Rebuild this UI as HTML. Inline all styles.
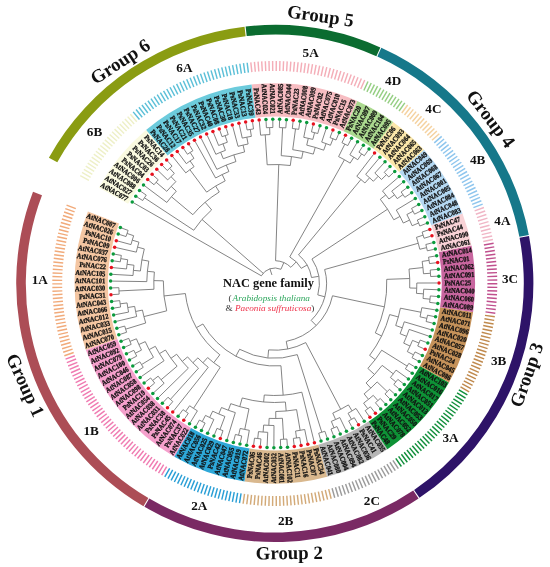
<!DOCTYPE html>
<html><head><meta charset="utf-8"><title>NAC gene family</title>
<style>html,body{margin:0;padding:0;background:#fff;}svg{display:block;}</style>
</head><body>
<svg width="550" height="567" viewBox="0 0 550 567">
<rect width="550" height="567" fill="#fff"/>
<path d="M143.47 506.27A258.6 258.6 0 0 1 33.02 191.75L42 195.16A249 249 0 0 0 148.35 498Z" fill="#ac4d56"/>
<path d="M418.58 498.44A258.6 258.6 0 0 1 144.41 506.82L149.25 498.53A249 249 0 0 0 413.25 490.46Z" fill="#7a2a64"/>
<path d="M529 236.02A258.6 258.6 0 0 1 419.48 497.84L414.11 489.88A249 249 0 0 0 519.57 237.78Z" fill="#2e1368"/>
<path d="M381.3 47.85A258.6 258.6 0 0 1 528.8 234.95L519.37 236.76A249 249 0 0 0 377.35 56.6Z" fill="#16788a"/>
<path d="M245.62 26.55A258.6 258.6 0 0 1 380.31 47.4L376.39 56.17A249 249 0 0 0 246.7 36.09Z" fill="#0b6c30"/>
<path d="M48.89 157.65A258.6 258.6 0 0 1 244.54 26.68L245.66 36.21A249 249 0 0 0 57.27 162.33Z" fill="#8a9c12"/>
<path d="M85.88 350.04A200.3 200.3 0 0 1 87.92 211.42L118.99 223.41A167 167 0 0 0 117.28 338.98Z" fill="#f4c6a2"/>
<path d="M174.34 456.78A200.3 200.3 0 0 1 85.88 350.04L117.28 338.98A167 167 0 0 0 191.04 427.98Z" fill="#f5a0cc"/>
<path d="M244.62 481.51A200.3 200.3 0 0 1 174.34 456.78L191.04 427.98A167 167 0 0 0 249.64 448.59Z" fill="#2ea8d8"/>
<path d="M327.16 476.83A200.3 200.3 0 0 1 244.62 481.51L249.64 448.59A167 167 0 0 0 318.46 444.69Z" fill="#d9b88e"/>
<path d="M387.42 449.14A200.3 200.3 0 0 1 327.16 476.83L318.46 444.69A167 167 0 0 0 368.69 421.6Z" fill="#b6b6b6"/>
<path d="M448.98 382.4A200.3 200.3 0 0 1 387.42 449.14L368.69 421.6A167 167 0 0 0 420.02 365.96Z" fill="#0e9236"/>
<path d="M473.08 311.89A200.3 200.3 0 0 1 448.98 382.4L420.02 365.96A167 167 0 0 0 440.11 307.17Z" fill="#c5925a"/>
<path d="M471.48 245.6A200.3 200.3 0 0 1 473.08 311.89L440.11 307.17A167 167 0 0 0 438.78 251.9Z" fill="#c8669f"/>
<path d="M462.49 213.57A200.3 200.3 0 0 1 471.48 245.6L438.78 251.9A167 167 0 0 0 431.29 225.19Z" fill="#f8d2d6"/>
<path d="M423.95 149.8A200.3 200.3 0 0 1 462.49 213.57L431.29 225.19A167 167 0 0 0 399.15 172.03Z" fill="#b4d8f2"/>
<path d="M393.15 121.9A200.3 200.3 0 0 1 423.95 149.8L399.15 172.03A167 167 0 0 0 373.47 148.77Z" fill="#fbe7aa"/>
<path d="M357.25 100.96A200.3 200.3 0 0 1 393.15 121.9L373.47 148.77A167 167 0 0 0 343.54 131.3Z" fill="#abd98f"/>
<path d="M251.57 84.55A200.3 200.3 0 0 1 357.25 100.96L343.54 131.3A167 167 0 0 0 255.43 117.63Z" fill="#f7bdc2"/>
<path d="M146.03 130.08A200.3 200.3 0 0 1 251.57 84.55L255.43 117.63A167 167 0 0 0 167.44 155.58Z" fill="#6ccbdc"/>
<path d="M98.86 187.76A200.3 200.3 0 0 1 146.03 130.08L167.44 155.58A167 167 0 0 0 128.11 203.67Z" fill="#fafae0"/>
<path d="M73.7 352.48L64.34 355.69M71.54 345.83L62.08 348.73M69.6 339.12L60.05 341.71M67.89 332.34L58.25 334.62M66.39 325.52L56.69 327.47M65.12 318.64L55.36 320.28M64.08 311.73L54.27 313.05M63.27 304.79L53.42 305.78M62.68 297.83L52.81 298.5M62.33 290.85L52.43 291.19M62.2 283.86L52.3 283.88M62.3 276.88L52.41 276.57M62.64 269.89L52.76 269.26M63.2 262.93L53.34 261.97M63.99 255.99L54.17 254.7M65.01 249.07L55.24 247.47M66.25 242.2L56.54 240.27M67.72 235.36L58.08 233.12M69.42 228.58L59.85 226.03M71.33 221.86L61.86 218.99M73.47 215.21L64.09 212.03M75.82 208.63L66.55 205.14M72.59 349.16L63.18 352.22M70.55 342.48L61.03 345.23M68.72 335.74L59.12 338.17M67.11 328.94L57.44 331.05M65.73 322.09L56 323.88M64.58 315.19L54.79 316.67M63.65 308.27L53.81 309.42M62.95 301.31L53.08 302.14M62.48 294.34L52.59 294.85M62.23 287.36L52.34 287.54M62.22 280.37L52.32 280.22M62.44 273.38L52.55 272.91M62.89 266.41L53.02 265.61M63.56 259.45L53.73 258.33M64.47 252.52L54.67 251.08M65.6 245.63L55.86 243.86M66.96 238.77L57.28 236.69M68.54 231.97L58.94 229.57M70.35 225.22L60.82 222.5M72.37 218.53L62.95 215.5M74.62 211.91L65.29 208.58" stroke="#f1aa7a" stroke-width="1.45" fill="none"/>
<path d="M166.66 466.54L161.63 475.07M160.7 462.89L155.39 471.24M154.87 459.04L149.28 467.22M149.16 455.01L143.31 462.99M143.6 450.78L137.49 458.57M138.17 446.38L131.81 453.97M132.89 441.8L126.28 449.18M127.76 437.05L120.92 444.2M122.8 432.14L115.72 439.06M117.99 427.06L110.69 433.75M113.36 421.83L105.84 428.27M108.9 416.45L101.17 422.64M104.62 410.93L96.7 416.86M100.52 405.26L92.41 410.93M96.62 399.47L88.32 404.87M92.9 393.55L84.43 398.68M89.38 387.51L80.75 392.36M86.06 381.36L77.27 385.92M82.95 375.11L74.02 379.37M80.04 368.75L70.97 372.72M77.35 362.31L68.15 365.98M74.86 355.77L65.55 359.14M163.67 464.74L158.49 473.18M157.77 460.99L152.32 469.26M152 457.05L146.28 465.13M146.36 452.92L140.38 460.81M140.86 448.61L134.63 456.29M135.51 444.11L129.02 451.59M130.31 439.45L123.58 446.71M125.26 434.62L118.3 441.65M120.37 429.62L113.18 436.42M115.65 424.47L108.24 431.03M111.11 419.16L103.48 425.48M106.74 413.71L98.91 419.77M102.55 408.11L94.53 413.91M98.55 402.38L90.34 407.92M94.73 396.53L86.35 401.79M91.12 390.55L82.56 395.53M87.7 384.45L78.98 389.15M84.48 378.25L75.62 382.66M81.47 371.94L72.47 376.06M78.67 365.54L69.53 369.36M76.08 359.05L66.82 362.57" stroke="#f07cb2" stroke-width="1.45" fill="none"/>
<path d="M241.06 493.41L239.49 503.18M234.25 492.2L232.36 501.92M227.48 490.77L225.28 500.42M220.77 489.12L218.25 498.69M214.11 487.25L211.28 496.74M207.51 485.17L204.38 494.56M200.99 482.87L197.55 492.16M194.54 480.37L190.8 489.54M188.18 477.65L184.14 486.69M181.91 474.73L177.58 483.64M175.74 471.61L171.12 480.37M169.67 468.29L164.77 476.89M237.65 492.83L235.92 502.58M230.86 491.51L228.82 501.2M224.12 489.97L221.76 499.59M217.43 488.21L214.76 497.75M210.8 486.24L207.82 495.68M204.24 484.05L200.95 493.39M197.75 481.65L194.16 490.87M191.35 479.04L187.46 488.14M185.03 476.22L180.85 485.19M178.81 473.2L174.34 482.03M172.69 469.97L167.93 478.66" stroke="#2a9fd6" stroke-width="1.45" fill="none"/>
<path d="M328.67 489.16L331.18 498.74M321.8 490.84L323.99 500.49M314.88 492.29L316.75 502.01M307.92 493.5L309.46 503.28M300.92 494.49L302.13 504.31M293.89 495.24L294.77 505.1M286.83 495.76L287.39 505.64M279.77 496.04L280 505.94M272.7 496.09L272.6 505.99M265.63 495.9L265.2 505.79M258.57 495.48L257.82 505.35M251.53 494.82L250.45 504.66M244.52 493.93L243.11 503.73M325.24 490.03L327.59 499.65M318.35 491.59L320.38 501.28M311.41 492.92L313.11 502.68M304.42 494.03L305.8 503.83M297.4 494.89L298.46 504.74M290.36 495.53L291.09 505.4M283.3 495.93L283.7 505.82M276.23 496.1L276.3 505.99M269.16 496.03L268.9 505.92M262.1 495.72L261.51 505.6M255.05 495.18L254.13 505.04M248.02 494.41L246.78 504.23" stroke="#d3aa78" stroke-width="1.45" fill="none"/>
<path d="M392.87 460.3L398.36 468.54M386.92 464.13L392.14 472.54M380.85 467.76L385.79 476.34M374.67 471.18L379.32 479.92M368.37 474.4L372.73 483.29M361.97 477.41L366.03 486.44M355.48 480.2L359.23 489.36M348.89 482.77L352.34 492.05M342.22 485.13L345.36 494.51M335.48 487.26L338.31 496.74M389.91 462.24L395.27 470.56M383.9 465.97L388.98 474.47M377.78 469.5L382.57 478.16M371.53 472.82L376.04 481.63M365.18 475.93L369.39 484.89M358.74 478.83L362.64 487.93M352.19 481.51L355.8 490.73M345.57 483.98L348.86 493.31M338.86 486.22L341.84 495.66M332.08 488.24L334.75 497.77" stroke="#9c9c9c" stroke-width="1.45" fill="none"/>
<path d="M458.82 389.98L467.38 394.93M455.24 395.93L463.64 401.16M451.47 401.76L459.7 407.27M447.51 407.47L455.56 413.24M443.37 413.04L451.22 419.08M439.05 418.48L446.7 424.77M434.56 423.77L442 430.3M429.89 428.92L437.11 435.69M425.06 433.9L432.06 440.91M420.07 438.73L426.83 445.96M414.92 443.39L421.44 450.84M409.62 447.88L415.9 455.54M404.18 452.2L410.21 460.05M398.6 456.33L404.37 464.38M457.05 392.97L465.54 398.06M453.38 398.86L461.7 404.23M449.52 404.63L457.65 410.27M445.47 410.27L453.41 416.18M441.24 415.78L448.99 421.94M436.83 421.14L444.37 427.55M432.24 426.36L439.58 433.02M427.5 431.43L434.61 438.32M422.58 436.34L429.46 443.45M417.51 441.08L424.16 448.42M412.29 445.66L418.69 453.21M406.92 450.06L413.07 457.82M401.41 454.29L407.31 462.24M395.76 458.33L401.4 466.47" stroke="#12903c" stroke-width="1.45" fill="none"/>
<path d="M485 315.35L494.79 316.83M483.85 322.17L493.59 323.97M482.49 328.95L492.16 331.06M480.9 335.68L490.49 338.11M479.09 342.36L488.6 345.1M477.07 348.97L486.49 352.02M474.83 355.52L484.15 358.87M472.38 361.98L481.58 365.64M469.72 368.37L478.8 372.32M466.86 374.67L475.8 378.91M463.79 380.87L472.59 385.4M460.53 386.96L469.17 391.78M484.46 318.76L494.22 320.4M483.2 325.56L492.9 327.52M481.72 332.32L491.35 334.59M480.02 339.03L489.58 341.61M478.11 345.67L487.57 348.57M475.98 352.25L485.34 355.45M473.63 358.76L482.89 362.27M471.08 365.19L480.22 368.99M468.32 371.53L477.33 375.63M465.35 377.78L474.23 382.17M462.18 383.93L470.91 388.6" stroke="#c08a4e" stroke-width="1.45" fill="none"/>
<path d="M483.89 245.01L493.62 243.22M485.05 251.98L494.84 250.52M485.98 258.99L495.82 257.85M486.68 266.03L496.55 265.22M487.14 273.08L497.03 272.6M487.37 280.15L497.27 280M487.37 287.22L497.27 287.39M487.13 294.29L497.01 294.79M486.65 301.34L496.52 302.17M485.94 308.38L495.77 309.54M484.5 248.49L494.26 246.86M485.55 255.48L495.36 254.18M486.36 262.51L496.21 261.53M486.94 269.55L496.82 268.91M487.29 276.62L497.18 276.3M487.4 283.69L497.3 283.69M487.28 290.76L497.17 291.09M486.92 297.82L496.79 298.48M486.32 304.86L496.17 305.86M485.5 311.88L495.31 313.21" stroke="#c0508e" stroke-width="1.45" fill="none"/>
<path d="M474.63 210.93L483.94 207.55M476.93 217.62L486.35 214.55M479.01 224.37L488.52 221.62M480.87 231.2L490.46 228.76M482.49 238.08L492.16 235.96M475.81 214.26L485.17 211.04M478 220.99L487.46 218.08M479.97 227.78L489.52 225.18M481.71 234.63L491.34 232.36M483.22 241.54L492.92 239.58" stroke="#f0b6c6" stroke-width="1.45" fill="none"/>
<path d="M434.26 142.89L441.68 136.34M438.75 148.15L446.38 141.84M443.06 153.55L450.9 147.5M447.2 159.09L455.23 153.3M451.16 164.77L459.37 159.24M454.93 170.57L463.31 165.31M458.5 176.49L467.06 171.5M461.89 182.52L470.6 177.82M465.07 188.66L473.93 184.24M468.06 194.9L477.06 190.77M470.84 201.23L479.97 197.4M473.41 207.65L482.66 204.12M436.52 145.5L444.05 139.07M440.93 150.83L448.66 144.65M445.15 156.31L453.09 150.38M449.2 161.92L457.32 156.25M453.06 167.65L461.37 162.26M456.74 173.51L465.21 168.39M460.22 179.49L468.85 174.65M463.51 185.58L472.29 181.02M466.59 191.77L475.52 187.5M469.47 198.06L478.54 194.08M472.15 204.43L481.34 200.75" stroke="#8fc6ee" stroke-width="1.45" fill="none"/>
<path d="M401.78 112.99L407.69 105.05M407.17 117.13L413.33 109.39M412.42 121.45L418.83 113.91M417.53 125.94L424.18 118.6M422.5 130.58L429.37 123.46M427.31 135.38L434.41 128.48M431.97 140.33L439.29 133.67M404.49 115.04L410.53 107.19M409.81 119.27L416.1 111.62M414.99 123.67L421.52 116.23M420.03 128.24L426.79 121.01M424.92 132.96L431.91 125.95M429.66 137.84L436.87 131.05" stroke="#f5d2a0" stroke-width="1.45" fill="none"/>
<path d="M363.86 90.45L368 81.46M369.98 93.4L374.42 84.55M376.01 96.54L380.73 87.83M381.94 99.87L386.93 91.32M387.76 103.39L393.02 95M393.46 107.09L398.98 98.88M399.04 110.98L404.82 102.95M366.93 91.9L371.22 82.98M373.01 94.94L377.59 86.16M378.99 98.18L383.84 89.55M384.86 101.61L389.99 93.14M390.62 105.22L396.02 96.92M396.26 109.01L401.92 100.89" stroke="#96cf84" stroke-width="1.45" fill="none"/>
<path d="M251.88 72.14L250.81 62.3M258.81 71.5L258.07 61.63M265.76 71.09L265.34 61.2M272.72 70.91L272.63 61.01M279.69 70.96L279.91 61.06M286.64 71.23L287.2 61.35M293.59 71.73L294.47 61.87M300.52 72.46L301.71 62.63M307.41 73.42L308.93 63.63M314.28 74.6L316.11 64.87M321.1 76L323.25 66.34M327.87 77.63L330.34 68.04M334.58 79.48L337.36 69.98M341.23 81.54L344.32 72.14M347.81 83.83L351.21 74.53M354.31 86.33L358.01 77.15M360.72 89.04L364.72 79.98M255.34 71.79L254.44 61.93M262.29 71.27L261.7 61.39M269.24 70.97L268.98 61.08M276.21 70.9L276.27 61M283.17 71.06L283.56 61.17M290.12 71.45L290.83 61.58M297.06 72.07L298.09 62.22M303.97 72.91L305.33 63.1M310.85 73.98L312.53 64.22M317.69 75.27L319.69 65.58M324.49 76.79L326.8 67.16M331.23 78.53L333.86 68.98M337.91 80.48L340.85 71.03M344.53 82.66L347.77 73.31M351.07 85.05L354.62 75.81M357.53 87.66L361.38 78.54" stroke="#f4aeb8" stroke-width="1.45" fill="none"/>
<path d="M139.48 119.52L133.18 111.89M145.01 115.12L138.97 107.27M150.68 110.89L144.9 102.86M156.49 106.86L150.98 98.64M162.43 103.02L157.2 94.62M168.49 99.39L163.54 90.81M174.67 95.95L170.01 87.22M180.96 92.73L176.59 83.85M187.36 89.71L183.29 80.69M193.85 86.91L190.08 77.76M200.43 84.33L196.97 75.06M207.1 81.97L203.95 72.58M213.84 79.83L211 70.34M220.64 77.91L218.12 68.34M227.51 76.23L225.31 66.57M234.43 74.77L232.55 65.05M241.39 73.54L239.84 63.76M248.39 72.55L247.16 62.72M142.23 117.3L136.05 109.56M147.83 112.98L141.91 105.04M153.57 108.85L147.92 100.72M159.44 104.92L154.07 96.6M165.44 101.18L160.35 92.69M171.57 97.65L166.76 88.99M177.81 94.32L173.29 85.51M184.15 91.19L179.93 82.24M190.59 88.29L186.67 79.2M197.13 85.59L193.52 76.38M203.76 83.12L200.45 73.79M210.46 80.87L207.46 71.43M217.23 78.84L214.55 69.31M224.07 77.04L221.71 67.43M230.96 75.47L228.92 65.78M237.91 74.13L236.19 64.38M244.89 73.01L243.49 63.21" stroke="#5cc0d8" stroke-width="1.45" fill="none"/>
<path d="M88.89 180.36L80.24 175.56M92.35 174.37L83.85 169.29M95.99 168.49L87.67 163.14M99.83 162.73L91.68 157.11M103.85 157.11L95.89 151.22M108.05 151.61L100.29 145.47M112.43 146.26L104.87 139.87M116.98 141.05L109.63 134.42M121.7 135.99L114.57 129.12M126.58 131.09L119.68 123.99M131.62 126.35L124.95 119.03M136.8 121.77L130.38 114.24M90.6 177.35L82.02 172.41M94.15 171.41L85.73 166.2M97.89 165.6L89.65 160.11M101.82 159.9L93.76 154.15M105.93 154.34L98.07 148.33M110.22 148.92L102.56 142.65M114.69 143.64L107.23 137.12M119.32 138.5L112.08 131.75M124.12 133.52L117.1 126.54M129.08 128.7L122.29 121.49M134.19 124.04L127.64 116.61" stroke="#eef0c8" stroke-width="1.45" fill="none"/>
<g font-family="Liberation Serif, serif" font-weight="bold" font-size="7.3" fill="#111" stroke="#111" stroke-width="0.3">
<text x="115.33" y="225.77" transform="rotate(19.9 115.33 225.77)" text-anchor="end" dy="2.4" textLength="30.21" lengthAdjust="spacingAndGlyphs">AtNAC007</text>
<text x="113.07" y="232.45" transform="rotate(17.52 113.07 232.45)" text-anchor="end" dy="2.4" textLength="30.21" lengthAdjust="spacingAndGlyphs">AtNAC026</text>
<text x="111.08" y="239.22" transform="rotate(15.14 111.08 239.22)" text-anchor="end" dy="2.4" textLength="26.69" lengthAdjust="spacingAndGlyphs">PsNAC10</text>
<text x="109.38" y="246.06" transform="rotate(12.75 109.38 246.06)" text-anchor="end" dy="2.4" textLength="26.69" lengthAdjust="spacingAndGlyphs">PsNAC09</text>
<text x="107.97" y="252.97" transform="rotate(10.37 107.97 252.97)" text-anchor="end" dy="2.4" textLength="30.21" lengthAdjust="spacingAndGlyphs">AtNAC037</text>
<text x="106.85" y="259.93" transform="rotate(7.99 106.85 259.93)" text-anchor="end" dy="2.4" textLength="30.21" lengthAdjust="spacingAndGlyphs">AtNAC076</text>
<text x="106.01" y="266.93" transform="rotate(5.61 106.01 266.93)" text-anchor="end" dy="2.4" textLength="26.69" lengthAdjust="spacingAndGlyphs">PsNAC22</text>
<text x="105.47" y="273.96" transform="rotate(3.23 105.47 273.96)" text-anchor="end" dy="2.4" textLength="30.21" lengthAdjust="spacingAndGlyphs">AtNAC105</text>
<text x="105.22" y="281" transform="rotate(0.84 105.22 281)" text-anchor="end" dy="2.4" textLength="30.21" lengthAdjust="spacingAndGlyphs">AtNAC101</text>
<text x="105.26" y="288.05" transform="rotate(-1.54 105.26 288.05)" text-anchor="end" dy="2.4" textLength="30.21" lengthAdjust="spacingAndGlyphs">AtNAC030</text>
<text x="105.6" y="295.09" transform="rotate(-3.92 105.6 295.09)" text-anchor="end" dy="2.4" textLength="26.69" lengthAdjust="spacingAndGlyphs">PsNAC31</text>
<text x="106.22" y="302.12" transform="rotate(-6.3 106.22 302.12)" text-anchor="end" dy="2.4" textLength="30.21" lengthAdjust="spacingAndGlyphs">AtNAC043</text>
<text x="107.14" y="309.11" transform="rotate(-8.68 107.14 309.11)" text-anchor="end" dy="2.4" textLength="30.21" lengthAdjust="spacingAndGlyphs">AtNAC066</text>
<text x="108.35" y="316.05" transform="rotate(-11.07 108.35 316.05)" text-anchor="end" dy="2.4" textLength="30.21" lengthAdjust="spacingAndGlyphs">AtNAC012</text>
<text x="109.85" y="322.94" transform="rotate(-13.45 109.85 322.94)" text-anchor="end" dy="2.4" textLength="30.21" lengthAdjust="spacingAndGlyphs">AtNAC033</text>
<text x="111.63" y="329.76" transform="rotate(-15.83 111.63 329.76)" text-anchor="end" dy="2.4" textLength="30.21" lengthAdjust="spacingAndGlyphs">AtNAC015</text>
<text x="113.7" y="336.51" transform="rotate(-18.21 113.7 336.51)" text-anchor="end" dy="2.4" textLength="30.21" lengthAdjust="spacingAndGlyphs">AtNAC070</text>
<text x="116.04" y="343.16" transform="rotate(-20.59 116.04 343.16)" text-anchor="end" dy="2.4" textLength="30.21" lengthAdjust="spacingAndGlyphs">AtNAC059</text>
<text x="118.65" y="349.7" transform="rotate(-22.98 118.65 349.7)" text-anchor="end" dy="2.4" textLength="30.21" lengthAdjust="spacingAndGlyphs">AtNAC092</text>
<text x="121.54" y="356.14" transform="rotate(-25.36 121.54 356.14)" text-anchor="end" dy="2.4" textLength="30.21" lengthAdjust="spacingAndGlyphs">AtNAC079</text>
<text x="124.69" y="362.44" transform="rotate(-27.74 124.69 362.44)" text-anchor="end" dy="2.4" textLength="30.21" lengthAdjust="spacingAndGlyphs">AtNAC100</text>
<text x="128.1" y="368.61" transform="rotate(-30.12 128.1 368.61)" text-anchor="end" dy="2.4" textLength="30.21" lengthAdjust="spacingAndGlyphs">AtNAC046</text>
<text x="131.77" y="374.64" transform="rotate(-32.5 131.77 374.64)" text-anchor="end" dy="2.4" textLength="30.21" lengthAdjust="spacingAndGlyphs">AtNAC087</text>
<text x="135.68" y="380.5" transform="rotate(-34.89 135.68 380.5)" text-anchor="end" dy="2.4" textLength="30.21" lengthAdjust="spacingAndGlyphs">AtNAC058</text>
<text x="139.83" y="386.2" transform="rotate(-37.27 139.83 386.2)" text-anchor="end" dy="2.4" textLength="30.21" lengthAdjust="spacingAndGlyphs">AtNAC098</text>
<text x="144.22" y="391.72" transform="rotate(-39.65 144.22 391.72)" text-anchor="end" dy="2.4" textLength="26.69" lengthAdjust="spacingAndGlyphs">PsNAC19</text>
<text x="148.83" y="397.05" transform="rotate(-42.03 148.83 397.05)" text-anchor="end" dy="2.4" textLength="30.21" lengthAdjust="spacingAndGlyphs">AtNAC054</text>
<text x="153.65" y="402.19" transform="rotate(-44.41 153.65 402.19)" text-anchor="end" dy="2.4" textLength="30.21" lengthAdjust="spacingAndGlyphs">AtNAC038</text>
<text x="158.69" y="407.12" transform="rotate(-46.8 158.69 407.12)" text-anchor="end" dy="2.4" textLength="30.21" lengthAdjust="spacingAndGlyphs">AtNAC031</text>
<text x="163.93" y="411.84" transform="rotate(-49.18 163.93 411.84)" text-anchor="end" dy="2.4" textLength="26.69" lengthAdjust="spacingAndGlyphs">PsNAC38</text>
<text x="169.36" y="416.34" transform="rotate(-51.56 169.36 416.34)" text-anchor="end" dy="2.4" textLength="26.69" lengthAdjust="spacingAndGlyphs">PsNAC45</text>
<text x="174.97" y="420.61" transform="rotate(-53.94 174.97 420.61)" text-anchor="end" dy="2.4" textLength="30.21" lengthAdjust="spacingAndGlyphs">AtNAC074</text>
<text x="180.76" y="424.64" transform="rotate(-56.32 180.76 424.64)" text-anchor="end" dy="2.4" textLength="26.69" lengthAdjust="spacingAndGlyphs">PsNAC37</text>
<text x="186.7" y="428.43" transform="rotate(-58.71 186.7 428.43)" text-anchor="end" dy="2.4" textLength="30.21" lengthAdjust="spacingAndGlyphs">AtNAC022</text>
<text x="192.8" y="431.96" transform="rotate(-61.09 192.8 431.96)" text-anchor="end" dy="2.4" textLength="30.21" lengthAdjust="spacingAndGlyphs">AtNAC018</text>
<text x="199.05" y="435.24" transform="rotate(-63.47 199.05 435.24)" text-anchor="end" dy="2.4" textLength="30.21" lengthAdjust="spacingAndGlyphs">AtNAC056</text>
<text x="205.42" y="438.26" transform="rotate(-65.85 205.42 438.26)" text-anchor="end" dy="2.4" textLength="30.21" lengthAdjust="spacingAndGlyphs">AtNAC025</text>
<text x="211.91" y="441.01" transform="rotate(-68.23 211.91 441.01)" text-anchor="end" dy="2.4" textLength="30.21" lengthAdjust="spacingAndGlyphs">AtNAC029</text>
<text x="218.51" y="443.49" transform="rotate(-70.62 218.51 443.49)" text-anchor="end" dy="2.4" textLength="26.69" lengthAdjust="spacingAndGlyphs">PsNAC42</text>
<text x="225.21" y="445.69" transform="rotate(-73 225.21 445.69)" text-anchor="end" dy="2.4" textLength="30.21" lengthAdjust="spacingAndGlyphs">AtNAC047</text>
<text x="231.99" y="447.61" transform="rotate(-75.38 231.99 447.61)" text-anchor="end" dy="2.4" textLength="30.21" lengthAdjust="spacingAndGlyphs">AtNAC055</text>
<text x="238.85" y="449.25" transform="rotate(-77.76 238.85 449.25)" text-anchor="end" dy="2.4" textLength="30.21" lengthAdjust="spacingAndGlyphs">AtNAC019</text>
<text x="245.77" y="450.6" transform="rotate(-80.14 245.77 450.6)" text-anchor="end" dy="2.4" textLength="30.21" lengthAdjust="spacingAndGlyphs">AtNAC072</text>
<text x="252.74" y="451.66" transform="rotate(-82.53 252.74 451.66)" text-anchor="end" dy="2.4" textLength="26.69" lengthAdjust="spacingAndGlyphs">PsNAC05</text>
<text x="259.75" y="452.43" transform="rotate(-84.91 259.75 452.43)" text-anchor="end" dy="2.4" textLength="26.69" lengthAdjust="spacingAndGlyphs">PsNAC46</text>
<text x="266.78" y="452.91" transform="rotate(-87.29 266.78 452.91)" text-anchor="end" dy="2.4" textLength="30.21" lengthAdjust="spacingAndGlyphs">AtNAC002</text>
<text x="273.83" y="453.1" transform="rotate(-89.67 273.83 453.1)" text-anchor="end" dy="2.4" textLength="30.21" lengthAdjust="spacingAndGlyphs">AtNAC032</text>
<text x="280.88" y="452.99" transform="rotate(87.95 280.88 452.99)" text-anchor="start" dy="2.4" textLength="30.21" lengthAdjust="spacingAndGlyphs">AtNAC081</text>
<text x="287.92" y="452.59" transform="rotate(85.56 287.92 452.59)" text-anchor="start" dy="2.4" textLength="30.21" lengthAdjust="spacingAndGlyphs">AtNAC102</text>
<text x="294.93" y="451.9" transform="rotate(83.18 294.93 451.9)" text-anchor="start" dy="2.4" textLength="26.3" lengthAdjust="spacingAndGlyphs">PsNAC11</text>
<text x="301.92" y="450.92" transform="rotate(80.8 301.92 450.92)" text-anchor="start" dy="2.4" textLength="26.69" lengthAdjust="spacingAndGlyphs">PsNAC16</text>
<text x="308.85" y="449.65" transform="rotate(78.42 308.85 449.65)" text-anchor="start" dy="2.4" textLength="26.69" lengthAdjust="spacingAndGlyphs">PsNAC07</text>
<text x="315.73" y="448.09" transform="rotate(76.04 315.73 448.09)" text-anchor="start" dy="2.4" textLength="26.69" lengthAdjust="spacingAndGlyphs">PsNAC34</text>
<text x="322.53" y="446.24" transform="rotate(73.65 322.53 446.24)" text-anchor="start" dy="2.4" textLength="30.21" lengthAdjust="spacingAndGlyphs">AtNAC041</text>
<text x="329.25" y="444.12" transform="rotate(71.27 329.25 444.12)" text-anchor="start" dy="2.4" textLength="30.21" lengthAdjust="spacingAndGlyphs">AtNAC080</text>
<text x="335.88" y="441.72" transform="rotate(68.89 335.88 441.72)" text-anchor="start" dy="2.4" textLength="30.21" lengthAdjust="spacingAndGlyphs">AtNAC004</text>
<text x="342.41" y="439.04" transform="rotate(66.51 342.41 439.04)" text-anchor="start" dy="2.4" textLength="30.21" lengthAdjust="spacingAndGlyphs">AtNAC094</text>
<text x="348.81" y="436.1" transform="rotate(64.13 348.81 436.1)" text-anchor="start" dy="2.4" textLength="30.21" lengthAdjust="spacingAndGlyphs">AtNAC082</text>
<text x="355.09" y="432.89" transform="rotate(61.74 355.09 432.89)" text-anchor="start" dy="2.4" textLength="30.21" lengthAdjust="spacingAndGlyphs">AtNAC036</text>
<text x="361.23" y="429.42" transform="rotate(59.36 361.23 429.42)" text-anchor="start" dy="2.4" textLength="26.69" lengthAdjust="spacingAndGlyphs">PsNAC41</text>
<text x="367.22" y="425.71" transform="rotate(56.98 367.22 425.71)" text-anchor="start" dy="2.4" textLength="30.21" lengthAdjust="spacingAndGlyphs">AtNAC035</text>
<text x="373.05" y="421.74" transform="rotate(54.6 373.05 421.74)" text-anchor="start" dy="2.4" textLength="26.69" lengthAdjust="spacingAndGlyphs">PsNAC48</text>
<text x="378.71" y="417.54" transform="rotate(52.22 378.71 417.54)" text-anchor="start" dy="2.4" textLength="26.69" lengthAdjust="spacingAndGlyphs">PsNAC29</text>
<text x="384.19" y="413.1" transform="rotate(49.83 384.19 413.1)" text-anchor="start" dy="2.4" textLength="30.21" lengthAdjust="spacingAndGlyphs">AtNAC078</text>
<text x="389.48" y="408.45" transform="rotate(47.45 389.48 408.45)" text-anchor="start" dy="2.4" textLength="30.21" lengthAdjust="spacingAndGlyphs">AtNAC052</text>
<text x="394.58" y="403.57" transform="rotate(45.07 394.58 403.57)" text-anchor="start" dy="2.4" textLength="30.21" lengthAdjust="spacingAndGlyphs">AtNAC050</text>
<text x="399.47" y="398.49" transform="rotate(42.69 399.47 398.49)" text-anchor="start" dy="2.4" textLength="30.21" lengthAdjust="spacingAndGlyphs">AtNAC053</text>
<text x="404.14" y="393.21" transform="rotate(40.31 404.14 393.21)" text-anchor="start" dy="2.4" textLength="30.21" lengthAdjust="spacingAndGlyphs">AtNAC013</text>
<text x="408.59" y="387.74" transform="rotate(37.92 408.59 387.74)" text-anchor="start" dy="2.4" textLength="30.21" lengthAdjust="spacingAndGlyphs">AtNAC051</text>
<text x="412.8" y="382.09" transform="rotate(35.54 412.8 382.09)" text-anchor="start" dy="2.4" textLength="30.21" lengthAdjust="spacingAndGlyphs">AtNAC017</text>
<text x="416.78" y="376.27" transform="rotate(33.16 416.78 376.27)" text-anchor="start" dy="2.4" textLength="30.21" lengthAdjust="spacingAndGlyphs">AtNAC016</text>
<text x="420.51" y="370.29" transform="rotate(30.78 420.51 370.29)" text-anchor="start" dy="2.4" textLength="30.21" lengthAdjust="spacingAndGlyphs">AtNAC103</text>
<text x="423.99" y="364.16" transform="rotate(28.4 423.99 364.16)" text-anchor="start" dy="2.4" textLength="30.21" lengthAdjust="spacingAndGlyphs">AtNAC086</text>
<text x="427.22" y="357.88" transform="rotate(26.01 427.22 357.88)" text-anchor="start" dy="2.4" textLength="30.21" lengthAdjust="spacingAndGlyphs">AtNAC045</text>
<text x="430.18" y="351.49" transform="rotate(23.63 430.18 351.49)" text-anchor="start" dy="2.4" textLength="26.69" lengthAdjust="spacingAndGlyphs">PsNAC24</text>
<text x="432.87" y="344.97" transform="rotate(21.25 432.87 344.97)" text-anchor="start" dy="2.4" textLength="30.21" lengthAdjust="spacingAndGlyphs">AtNAC028</text>
<text x="435.29" y="338.35" transform="rotate(18.87 435.29 338.35)" text-anchor="start" dy="2.4" textLength="30.21" lengthAdjust="spacingAndGlyphs">AtNAC057</text>
<text x="437.43" y="331.63" transform="rotate(16.49 437.43 331.63)" text-anchor="start" dy="2.4" textLength="30.21" lengthAdjust="spacingAndGlyphs">AtNAC020</text>
<text x="439.29" y="324.83" transform="rotate(14.1 439.29 324.83)" text-anchor="start" dy="2.4" textLength="30.21" lengthAdjust="spacingAndGlyphs">AtNAC096</text>
<text x="440.86" y="317.96" transform="rotate(11.72 440.86 317.96)" text-anchor="start" dy="2.4" textLength="30.21" lengthAdjust="spacingAndGlyphs">AtNAC071</text>
<text x="442.15" y="311.02" transform="rotate(9.34 442.15 311.02)" text-anchor="start" dy="2.4" textLength="29.89" lengthAdjust="spacingAndGlyphs">AtNAC011</text>
<text x="443.15" y="304.05" transform="rotate(6.96 443.15 304.05)" text-anchor="start" dy="2.4" textLength="30.21" lengthAdjust="spacingAndGlyphs">AtNAC089</text>
<text x="443.86" y="297.03" transform="rotate(4.58 443.86 297.03)" text-anchor="start" dy="2.4" textLength="30.21" lengthAdjust="spacingAndGlyphs">AtNAC060</text>
<text x="444.28" y="289.99" transform="rotate(2.19 444.28 289.99)" text-anchor="start" dy="2.4" textLength="30.21" lengthAdjust="spacingAndGlyphs">AtNAC040</text>
<text x="444.4" y="282.94" transform="rotate(-0.19 444.4 282.94)" text-anchor="start" dy="2.4" textLength="26.69" lengthAdjust="spacingAndGlyphs">PsNAC25</text>
<text x="444.23" y="275.9" transform="rotate(-2.57 444.23 275.9)" text-anchor="start" dy="2.4" textLength="30.21" lengthAdjust="spacingAndGlyphs">AtNAC091</text>
<text x="443.77" y="268.86" transform="rotate(-4.95 443.77 268.86)" text-anchor="start" dy="2.4" textLength="30.21" lengthAdjust="spacingAndGlyphs">AtNAC062</text>
<text x="443.01" y="261.85" transform="rotate(-7.33 443.01 261.85)" text-anchor="start" dy="2.4" textLength="26.69" lengthAdjust="spacingAndGlyphs">PsNAC01</text>
<text x="441.97" y="254.88" transform="rotate(-9.72 441.97 254.88)" text-anchor="start" dy="2.4" textLength="30.21" lengthAdjust="spacingAndGlyphs">AtNAC014</text>
<text x="440.63" y="247.95" transform="rotate(-12.1 440.63 247.95)" text-anchor="start" dy="2.4" textLength="30.21" lengthAdjust="spacingAndGlyphs">AtNAC061</text>
<text x="439.01" y="241.09" transform="rotate(-14.48 439.01 241.09)" text-anchor="start" dy="2.4" textLength="30.21" lengthAdjust="spacingAndGlyphs">AtNAC090</text>
<text x="437.11" y="234.3" transform="rotate(-16.86 437.11 234.3)" text-anchor="start" dy="2.4" textLength="26.69" lengthAdjust="spacingAndGlyphs">PsNAC44</text>
<text x="434.92" y="227.6" transform="rotate(-19.24 434.92 227.6)" text-anchor="start" dy="2.4" textLength="26.69" lengthAdjust="spacingAndGlyphs">PsNAC47</text>
<text x="432.46" y="220.99" transform="rotate(-21.63 432.46 220.99)" text-anchor="start" dy="2.4" textLength="30.21" lengthAdjust="spacingAndGlyphs">AtNAC083</text>
<text x="429.73" y="214.5" transform="rotate(-24.01 429.73 214.5)" text-anchor="start" dy="2.4" textLength="30.21" lengthAdjust="spacingAndGlyphs">AtNAC048</text>
<text x="426.73" y="208.12" transform="rotate(-26.39 426.73 208.12)" text-anchor="start" dy="2.4" textLength="30.21" lengthAdjust="spacingAndGlyphs">AtNAC084</text>
<text x="423.46" y="201.87" transform="rotate(-28.77 423.46 201.87)" text-anchor="start" dy="2.4" textLength="30.21" lengthAdjust="spacingAndGlyphs">AtNAC005</text>
<text x="419.94" y="195.76" transform="rotate(-31.15 419.94 195.76)" text-anchor="start" dy="2.4" textLength="30.21" lengthAdjust="spacingAndGlyphs">AtNAC001</text>
<text x="416.17" y="189.8" transform="rotate(-33.54 416.17 189.8)" text-anchor="start" dy="2.4" textLength="30.21" lengthAdjust="spacingAndGlyphs">AtNAC067</text>
<text x="412.15" y="184.01" transform="rotate(-35.92 412.15 184.01)" text-anchor="start" dy="2.4" textLength="30.21" lengthAdjust="spacingAndGlyphs">AtNAC068</text>
<text x="407.9" y="178.39" transform="rotate(-38.3 407.9 178.39)" text-anchor="start" dy="2.4" textLength="30.21" lengthAdjust="spacingAndGlyphs">AtNAC069</text>
<text x="403.41" y="172.94" transform="rotate(-40.68 403.41 172.94)" text-anchor="start" dy="2.4" textLength="30.21" lengthAdjust="spacingAndGlyphs">AtNAC049</text>
<text x="398.71" y="167.69" transform="rotate(-43.06 398.71 167.69)" text-anchor="start" dy="2.4" textLength="30.21" lengthAdjust="spacingAndGlyphs">AtNAC063</text>
<text x="393.79" y="162.64" transform="rotate(-45.45 393.79 162.64)" text-anchor="start" dy="2.4" textLength="30.21" lengthAdjust="spacingAndGlyphs">AtNAC065</text>
<text x="388.66" y="157.8" transform="rotate(-47.83 388.66 157.8)" text-anchor="start" dy="2.4" textLength="30.21" lengthAdjust="spacingAndGlyphs">AtNAC064</text>
<text x="383.34" y="153.18" transform="rotate(-50.21 383.34 153.18)" text-anchor="start" dy="2.4" textLength="30.21" lengthAdjust="spacingAndGlyphs">AtNAC093</text>
<text x="377.83" y="148.78" transform="rotate(-52.59 377.83 148.78)" text-anchor="start" dy="2.4" textLength="26.69" lengthAdjust="spacingAndGlyphs">PsNAC06</text>
<text x="372.14" y="144.62" transform="rotate(-54.97 372.14 144.62)" text-anchor="start" dy="2.4" textLength="30.21" lengthAdjust="spacingAndGlyphs">AtNAC095</text>
<text x="366.29" y="140.69" transform="rotate(-57.36 366.29 140.69)" text-anchor="start" dy="2.4" textLength="30.21" lengthAdjust="spacingAndGlyphs">AtNAC104</text>
<text x="360.27" y="137.01" transform="rotate(-59.74 360.27 137.01)" text-anchor="start" dy="2.4" textLength="30.21" lengthAdjust="spacingAndGlyphs">AtNAC009</text>
<text x="354.11" y="133.59" transform="rotate(-62.12 354.11 133.59)" text-anchor="start" dy="2.4" textLength="30.21" lengthAdjust="spacingAndGlyphs">AtNAC097</text>
<text x="347.81" y="130.42" transform="rotate(-64.5 347.81 130.42)" text-anchor="start" dy="2.4" textLength="26.69" lengthAdjust="spacingAndGlyphs">PsNAC20</text>
<text x="341.38" y="127.52" transform="rotate(-66.88 341.38 127.52)" text-anchor="start" dy="2.4" textLength="30.21" lengthAdjust="spacingAndGlyphs">AtNAC073</text>
<text x="334.84" y="124.88" transform="rotate(-69.27 334.84 124.88)" text-anchor="start" dy="2.4" textLength="26.69" lengthAdjust="spacingAndGlyphs">PsNAC15</text>
<text x="328.2" y="122.53" transform="rotate(-71.65 328.2 122.53)" text-anchor="start" dy="2.4" textLength="30.21" lengthAdjust="spacingAndGlyphs">AtNAC010</text>
<text x="321.46" y="120.45" transform="rotate(-74.03 321.46 120.45)" text-anchor="start" dy="2.4" textLength="30.21" lengthAdjust="spacingAndGlyphs">AtNAC075</text>
<text x="314.65" y="118.65" transform="rotate(-76.41 314.65 118.65)" text-anchor="start" dy="2.4" textLength="26.69" lengthAdjust="spacingAndGlyphs">PsNAC02</text>
<text x="307.76" y="117.13" transform="rotate(-78.79 307.76 117.13)" text-anchor="start" dy="2.4" textLength="30.21" lengthAdjust="spacingAndGlyphs">AtNAC099</text>
<text x="300.82" y="115.91" transform="rotate(-81.18 300.82 115.91)" text-anchor="start" dy="2.4" textLength="30.21" lengthAdjust="spacingAndGlyphs">AtNAC008</text>
<text x="293.83" y="114.97" transform="rotate(-83.56 293.83 114.97)" text-anchor="start" dy="2.4" textLength="26.69" lengthAdjust="spacingAndGlyphs">PsNAC23</text>
<text x="286.81" y="114.33" transform="rotate(-85.94 286.81 114.33)" text-anchor="start" dy="2.4" textLength="30.21" lengthAdjust="spacingAndGlyphs">AtNAC044</text>
<text x="279.77" y="113.97" transform="rotate(-88.32 279.77 113.97)" text-anchor="start" dy="2.4" textLength="30.21" lengthAdjust="spacingAndGlyphs">AtNAC085</text>
<text x="272.72" y="113.91" transform="rotate(-270.7 272.72 113.91)" text-anchor="end" dy="2.4" textLength="30.21" lengthAdjust="spacingAndGlyphs">AtNAC021</text>
<text x="265.67" y="114.15" transform="rotate(-273.09 265.67 114.15)" text-anchor="end" dy="2.4" textLength="30.21" lengthAdjust="spacingAndGlyphs">AtNAC024</text>
<text x="258.64" y="114.67" transform="rotate(-275.47 258.64 114.67)" text-anchor="end" dy="2.4" textLength="26.69" lengthAdjust="spacingAndGlyphs">PsNAC43</text>
<text x="251.64" y="115.49" transform="rotate(-277.85 251.64 115.49)" text-anchor="end" dy="2.4" textLength="26.69" lengthAdjust="spacingAndGlyphs">PsNAC39</text>
<text x="244.67" y="116.6" transform="rotate(-280.23 244.67 116.6)" text-anchor="end" dy="2.4" textLength="26.69" lengthAdjust="spacingAndGlyphs">PsNAC13</text>
<text x="237.76" y="117.99" transform="rotate(-282.61 237.76 117.99)" text-anchor="end" dy="2.4" textLength="26.69" lengthAdjust="spacingAndGlyphs">PsNAC33</text>
<text x="230.92" y="119.68" transform="rotate(-285 230.92 119.68)" text-anchor="end" dy="2.4" textLength="26.69" lengthAdjust="spacingAndGlyphs">PsNAC18</text>
<text x="224.14" y="121.64" transform="rotate(-287.38 224.14 121.64)" text-anchor="end" dy="2.4" textLength="26.69" lengthAdjust="spacingAndGlyphs">PsNAC30</text>
<text x="217.46" y="123.89" transform="rotate(-289.76 217.46 123.89)" text-anchor="end" dy="2.4" textLength="26.69" lengthAdjust="spacingAndGlyphs">PsNAC08</text>
<text x="210.88" y="126.41" transform="rotate(-292.14 210.88 126.41)" text-anchor="end" dy="2.4" textLength="26.69" lengthAdjust="spacingAndGlyphs">PsNAC40</text>
<text x="204.4" y="129.2" transform="rotate(-294.52 204.4 129.2)" text-anchor="end" dy="2.4" textLength="26.69" lengthAdjust="spacingAndGlyphs">PsNAC32</text>
<text x="198.05" y="132.26" transform="rotate(-296.91 198.05 132.26)" text-anchor="end" dy="2.4" textLength="26.69" lengthAdjust="spacingAndGlyphs">PsNAC27</text>
<text x="191.83" y="135.58" transform="rotate(-299.29 191.83 135.58)" text-anchor="end" dy="2.4" textLength="26.69" lengthAdjust="spacingAndGlyphs">PsNAC35</text>
<text x="185.76" y="139.16" transform="rotate(-301.67 185.76 139.16)" text-anchor="end" dy="2.4" textLength="26.69" lengthAdjust="spacingAndGlyphs">PsNAC21</text>
<text x="179.83" y="142.98" transform="rotate(-304.05 179.83 142.98)" text-anchor="end" dy="2.4" textLength="26.69" lengthAdjust="spacingAndGlyphs">PsNAC17</text>
<text x="174.08" y="147.05" transform="rotate(-306.43 174.08 147.05)" text-anchor="end" dy="2.4" textLength="26.69" lengthAdjust="spacingAndGlyphs">PsNAC12</text>
<text x="168.49" y="151.35" transform="rotate(-308.82 168.49 151.35)" text-anchor="end" dy="2.4" textLength="26.69" lengthAdjust="spacingAndGlyphs">PsNAC28</text>
<text x="163.09" y="155.89" transform="rotate(-311.2 163.09 155.89)" text-anchor="end" dy="2.4" textLength="26.69" lengthAdjust="spacingAndGlyphs">PsNAC14</text>
<text x="157.88" y="160.64" transform="rotate(-313.58 157.88 160.64)" text-anchor="end" dy="2.4" textLength="26.69" lengthAdjust="spacingAndGlyphs">PsNAC36</text>
<text x="152.88" y="165.61" transform="rotate(-315.96 152.88 165.61)" text-anchor="end" dy="2.4" textLength="26.69" lengthAdjust="spacingAndGlyphs">PsNAC26</text>
<text x="148.08" y="170.77" transform="rotate(-318.34 148.08 170.77)" text-anchor="end" dy="2.4" textLength="26.69" lengthAdjust="spacingAndGlyphs">PsNAC03</text>
<text x="143.51" y="176.14" transform="rotate(-320.73 143.51 176.14)" text-anchor="end" dy="2.4" textLength="26.69" lengthAdjust="spacingAndGlyphs">PsNAC04</text>
<text x="139.16" y="181.69" transform="rotate(-323.11 139.16 181.69)" text-anchor="end" dy="2.4" textLength="30.21" lengthAdjust="spacingAndGlyphs">AtNAC006</text>
<text x="135.04" y="187.41" transform="rotate(-325.49 135.04 187.41)" text-anchor="end" dy="2.4" textLength="30.21" lengthAdjust="spacingAndGlyphs">AtNAC088</text>
<text x="131.17" y="193.3" transform="rotate(-327.87 131.17 193.3)" text-anchor="end" dy="2.4" textLength="30.21" lengthAdjust="spacingAndGlyphs">AtNAC027</text>
<text x="127.55" y="199.35" transform="rotate(-330.25 127.55 199.35)" text-anchor="end" dy="2.4" textLength="30.21" lengthAdjust="spacingAndGlyphs">AtNAC077</text>
</g>
<path d="M261.34 275.81A15.5 15.5 0 0 1 280.94 269.27M261.34 275.81L133.63 202.83M263.16 273.26L201.98 219.42M193.74 230.22A97 97 0 0 1 211.65 209.87M193.74 230.22L144.44 197.81M142.69 200.54A156 156 0 0 1 146.25 195.12M146.25 195.12L140.81 191.38M142.69 200.54L137.1 197.03M211.65 209.87L205.14 202.28M192.86 214.7A107 107 0 0 1 219.27 192.03M219.27 192.03L215.64 186.05M206.62 192.14A114 114 0 0 1 225.2 180.85M225.2 180.85L222.16 174.55M215.61 177.97A121 121 0 0 1 228.9 171.54M228.9 171.54L226.25 165.07M216.88 169.36A128 128 0 0 1 235.94 161.54M235.94 161.54L233.81 154.87M223.27 158.72A135 135 0 0 1 244.63 151.91M244.63 151.91L243.07 145.09M238.06 146.34A142 142 0 0 1 248.12 144.03M248.12 144.03L246.81 137.15M242.26 138.1A149 149 0 0 1 251.39 136.35M251.39 136.35L250.29 129.44M247.09 129.98A156 156 0 0 1 253.49 128.96M253.49 128.96L252.59 122.42M247.09 129.98L245.92 123.49M242.26 138.1L239.29 124.82M238.06 146.34L232.73 126.44M223.27 158.72L220.6 152.25M215.86 154.31A142 142 0 0 1 225.41 150.37M225.41 150.37L222.97 143.8M218.64 145.49A149 149 0 0 1 227.35 142.26M227.35 142.26L225.12 135.62M222.06 136.69A156 156 0 0 1 228.21 134.62M228.21 134.62L226.24 128.32M222.06 136.69L219.83 130.47M218.64 145.49L213.52 132.89M215.86 154.31L207.31 135.57M216.88 169.36L201.22 138.5M215.61 177.97L195.26 141.68M206.62 192.14L189.87 169.69M185.79 172.86A142 142 0 0 1 194.07 166.68M194.07 166.68L190.09 160.92M186.31 163.62A149 149 0 0 1 193.95 158.34M193.95 158.34L190.15 152.46M187.45 154.25A156 156 0 0 1 192.9 150.73M192.9 150.73L189.43 145.11M187.45 154.25L183.75 148.78M186.31 163.62L178.23 152.68M185.79 172.86L172.88 156.81M192.86 214.7L171.41 196.69M166.83 202.46A135 135 0 0 1 176.3 191.18M176.3 191.18L171.19 186.39M166.77 191.34A142 142 0 0 1 175.85 181.66M175.85 181.66L170.97 176.64M167.69 179.92A149 149 0 0 1 174.35 173.45M174.35 173.45L169.63 168.28M167.26 170.49A156 156 0 0 1 172.05 166.12M172.05 166.12L167.7 161.15M167.26 170.49L162.71 165.71M167.69 179.92L157.91 170.47M166.77 191.34L156.11 182.26M154.04 184.75A156 156 0 0 1 158.24 179.81M158.24 179.81L153.31 175.43M154.04 184.75L148.93 180.57M166.83 202.46L144.76 185.89M280.94 269.27L283.83 262.57M275.56 260.71A22.8 22.8 0 0 1 290.86 267.32M290.86 267.32L296.28 261.85M289.76 256.92A30.5 30.5 0 0 1 301.26 268.34M301.26 268.34L307.08 265.01M298.53 254.85A37.2 37.2 0 0 1 311.52 277.52M311.52 277.52L318.72 276.34M311.96 259.01A44.5 44.5 0 0 1 317.81 294.92M317.81 294.92L324.86 296.8M324.67 269.51A51.8 51.8 0 0 1 311.16 320.4M311.16 320.4L316.21 325.53M332.51 295.79A59 59 0 0 1 286.23 341.38M332.51 295.79L384.34 306.82M386.72 279.35A112 112 0 0 1 375.32 332.88M386.72 279.35L409.71 278.5M409.02 269.05A135 135 0 0 1 409.73 287.97M409.73 287.97L416.72 288.2M416.8 283.03A142 142 0 0 1 416.46 293.36M416.46 293.36L423.44 293.84M423.69 289.2A149 149 0 0 1 423.05 298.47M423.05 298.47L430.01 299.18M430.3 295.95A156 156 0 0 1 429.65 302.4M429.65 302.4L436.2 303.2M430.3 295.95L436.88 296.47M423.69 289.2L437.28 289.72M416.8 283.03L437.4 282.97M409.02 269.05L422.94 267.56M422.15 261.41A149 149 0 0 1 423.48 273.73M423.48 273.73L430.46 273.27M430.22 270.03A156 156 0 0 1 430.64 276.5M430.64 276.5L437.24 276.21M430.22 270.03L436.79 269.46M422.15 261.41L429.08 260.37M428.56 257.17A156 156 0 0 1 429.52 263.59M429.52 263.59L436.07 262.74M428.56 257.17L435.07 256.06M375.32 332.88L381.61 335.97M389.67 314.59A119 119 0 0 1 369.61 355.41M389.67 314.59L398.35 316.94M400.39 308.2A128 128 0 0 1 395.71 325.52M395.71 325.52L402.32 327.82M404.25 321.81A135 135 0 0 1 400.11 333.73M400.11 333.73L406.6 336.34M409.17 329.42A142 142 0 0 1 403.68 343.11M403.68 343.11L410.03 346.05M412.52 340.38A149 149 0 0 1 407.32 351.62M407.32 351.62L413.54 354.82M415 351.92A156 156 0 0 1 412.03 357.69M412.03 357.69L417.84 360.83M415 351.92L420.93 354.81M412.52 340.38L418.99 343.05M420.19 340.04A156 156 0 0 1 417.72 346.03M417.72 346.03L423.76 348.68M420.19 340.04L426.34 342.43M409.17 329.42L428.66 336.08M404.25 321.81L430.72 329.64M400.39 308.2L421 312.25M421.82 307.68A149 149 0 0 1 420.03 316.8M421.82 307.68L435.24 309.89M420.03 316.8L426.85 318.36M427.55 315.19A156 156 0 0 1 426.1 321.51M426.1 321.51L432.5 323.12M427.55 315.19L434.01 316.53M369.61 355.41L375.19 359.64M381.69 350.21A126 126 0 0 1 367.86 368.45M367.86 368.45L374.51 374.51M382.15 365.36A135 135 0 0 1 366.09 382.96M366.09 382.96L370.82 388.11M377.15 381.93A142 142 0 0 1 364.12 393.89M364.12 393.89L368.52 399.34M373.25 395.34A149 149 0 0 1 363.62 403.13M363.62 403.13L367.8 408.75M370.38 406.79A156 156 0 0 1 365.17 410.66M365.17 410.66L369 416.04M370.38 406.79L374.42 412.01M373.25 395.34L377.88 400.59M380.29 398.43A156 156 0 0 1 375.42 402.71M375.42 402.71L379.68 407.76M380.29 398.43L384.75 403.29M377.15 381.93L387.25 391.63M389.47 389.27A156 156 0 0 1 384.97 393.94M384.97 393.94L389.64 398.62M389.47 389.27L394.32 393.74M382.15 365.36L393.28 373.85M396.04 370.11A149 149 0 0 1 390.41 377.5M390.41 377.5L395.84 381.92M397.86 379.38A156 156 0 0 1 393.77 384.41M393.77 384.41L398.8 388.68M397.86 379.38L403.06 383.44M396.04 370.11L407.11 378.02M381.69 350.21L407.14 366.1M408.83 363.33A156 156 0 0 1 405.39 368.83M405.39 368.83L410.92 372.44M408.83 363.33L414.5 366.7M286.23 341.38L287.73 348.94M305.76 342.58A66.7 66.7 0 0 1 268.62 349.91M268.62 349.91L267.89 357.78M297.28 354.63A74.6 74.6 0 0 1 239.59 349.27M239.59 349.27L235.86 356.23M280.97 365.77A82.5 82.5 0 0 1 202.92 323.98M202.92 323.98L196.38 327.66M219.84 354.77A90 90 0 0 1 185.36 293.55M185.36 293.55L164 295.96M166.7 310.84A111.5 111.5 0 0 1 163.33 280.84M163.33 280.84L153.83 280.62M153.94 289.26A121 121 0 0 1 154.35 271.99M154.35 271.99L147.38 271.32M146.81 281.61A128 128 0 0 1 148.77 261.11M148.77 261.11L141.88 259.89M140.38 271.01A135 135 0 0 1 144.3 248.93M144.3 248.93L137.54 247.14M136.3 252.15A142 142 0 0 1 138.95 242.17M138.95 242.17L132.25 240.13M130.97 244.59A149 149 0 0 1 133.67 235.71M133.67 235.71L127.04 233.46M126.03 236.54A156 156 0 0 1 128.12 230.4M128.12 230.4L121.91 228.15M126.03 236.54L119.74 234.56M130.97 244.59L117.84 241.04M136.3 252.15L116.21 247.6M140.38 271.01L133.41 270.36M133.03 275.51A142 142 0 0 1 133.98 265.22M133.98 265.22L127.04 264.32M126.51 268.94A149 149 0 0 1 127.71 259.73M127.71 259.73L120.8 258.61M120.31 261.82A156 156 0 0 1 121.35 255.41M121.35 255.41L114.86 254.23M120.31 261.82L113.78 260.9M126.51 268.94L112.98 267.61M133.03 275.51L112.46 274.35M146.81 281.61L112.22 281.1M153.94 289.26L118.98 290.93M119.16 294.16A156 156 0 0 1 118.86 287.69M118.86 287.69L112.26 287.86M119.16 294.16L112.58 294.62M166.7 310.84L143.92 316.6M145.71 323.02A135 135 0 0 1 142.45 310.1M142.45 310.1L135.58 311.48M136.69 316.52A142 142 0 0 1 134.66 306.4M134.66 306.4L127.75 307.53M128.57 312.1A149 149 0 0 1 127.07 302.93M127.07 302.93L120.13 303.84M120.59 307.05A156 156 0 0 1 119.74 300.62M119.74 300.62L113.18 301.35M120.59 307.05L114.06 308.05M128.57 312.1L115.22 314.71M136.69 316.52L116.66 321.31M145.71 323.02L125.63 329.16M126.61 332.26A156 156 0 0 1 124.72 326.05M124.72 326.05L118.37 327.85M126.61 332.26L120.35 334.32M219.84 354.77L213.73 362.69M220.22 367.29A100 100 0 0 1 207.63 357.58M207.63 357.58L202.93 362.77M208.28 367.31A107 107 0 0 1 197.88 357.88M197.88 357.88L192.85 362.75M198.5 368.2A114 114 0 0 1 187.59 356.92M187.59 356.92L182.24 361.43M188.37 368.18A121 121 0 0 1 176.64 354.24M176.64 354.24L170.96 358.34M177.1 366.2A128 128 0 0 1 165.44 350.02M165.44 350.02L159.46 353.66M164.06 360.71A135 135 0 0 1 155.32 346.34M155.32 346.34L149.12 349.6M153.48 357.3A142 142 0 0 1 145.25 341.63M145.25 341.63L138.86 344.5M141.51 350.1A149 149 0 0 1 136.44 338.8M136.44 338.8L129.94 341.4M131.18 344.39A156 156 0 0 1 128.77 338.37M128.77 338.37L122.59 340.69M131.18 344.39L125.1 346.97M141.51 350.1L135.25 353.23M136.73 356.11A156 156 0 0 1 133.83 350.31M133.83 350.31L127.87 353.14M136.73 356.11L130.89 359.18M153.48 357.3L141.52 364.58M143.24 367.33A156 156 0 0 1 139.87 361.79M139.87 361.79L134.16 365.1M143.24 367.33L137.67 370.87M164.06 360.71L141.42 376.5M177.1 366.2L161.07 379.76M164.13 383.26A149 149 0 0 1 158.13 376.17M158.13 376.17L152.64 380.52M154.69 383.04A156 156 0 0 1 150.65 377.96M150.65 377.96L145.4 381.96M154.69 383.04L149.61 387.25M164.13 383.26L154.03 392.37M188.37 368.18L158.65 397.29M198.5 368.2L170.39 399.41M172.82 401.55A156 156 0 0 1 168 397.21M168 397.21L163.48 402.02M172.82 401.55L168.51 406.55M208.28 367.31L173.71 410.86M220.22 367.29L193.47 408.35M197.4 410.82A149 149 0 0 1 189.62 405.75M189.62 405.75L185.62 411.5M188.3 413.32A156 156 0 0 1 182.98 409.61M182.98 409.61L179.09 414.95M188.3 413.32L184.64 418.81M197.4 410.82L190.34 422.44M280.97 365.77L283.17 395.19M301.83 392.19A112 112 0 0 1 264.28 395M264.28 395L263.62 401.97M285.39 402.03A119 119 0 0 1 242.23 397.96M242.23 397.96L239.76 406.61M248.97 408.87A128 128 0 0 1 230.75 403.68M230.75 403.68L228.34 410.25M235.33 412.6A135 135 0 0 1 221.5 407.53M221.5 407.53L218.74 413.96M224.9 416.44A142 142 0 0 1 212.7 411.2M212.7 411.2L209.64 417.49M213.84 419.46A149 149 0 0 1 205.49 415.4M205.49 415.4L202.23 421.59M205.12 423.07A156 156 0 0 1 199.38 420.06M199.38 420.06L196.19 425.83M205.12 423.07L202.17 428.98M213.84 419.46L208.28 431.87M224.9 416.44L219.98 429.55M223.02 430.66A156 156 0 0 1 216.95 428.38M216.95 428.38L214.51 434.51M223.02 430.66L220.83 436.88M235.33 412.6L227.25 438.99M248.97 408.87L244.73 429.43M249.3 430.3A149 149 0 0 1 240.2 428.43M240.2 428.43L238.57 435.23M241.73 435.95A156 156 0 0 1 235.42 434.45M235.42 434.45L233.76 440.84M241.73 435.95L240.33 442.41M249.3 430.3L246.97 443.7M285.39 402.03L286.19 410.99M296.58 409.63A128 128 0 0 1 275.73 411.5M275.73 411.5L275.78 418.5M282.44 418.28A135 135 0 0 1 269.12 418.38M269.12 418.38L268.82 425.37M273.99 425.5A142 142 0 0 1 263.67 425.06M263.67 425.06L263.12 432.04M267.76 432.33A149 149 0 0 1 258.49 431.61M258.49 431.61L257.73 438.56M260.95 438.88A156 156 0 0 1 254.51 438.17M254.51 438.17L253.65 444.72M260.95 438.88L260.37 445.46M267.76 432.33L267.11 445.92M273.99 425.5L273.87 446.1M282.44 418.28L283.63 439.25M286.87 439.03A156 156 0 0 1 280.39 439.4M280.39 439.4L280.63 446M286.87 439.03L287.38 445.61M296.58 409.63L300.15 430.33M304.71 429.47A149 149 0 0 1 295.56 431.05M295.56 431.05L296.54 437.98M299.74 437.49A156 156 0 0 1 293.32 438.4M293.32 438.4L294.1 444.95M299.74 437.49L300.8 444.01M304.71 429.47L307.45 442.79M301.83 392.19L314.04 441.29M297.28 354.63L321.81 432.25M324.89 431.24A156 156 0 0 1 318.7 433.19M318.7 433.19L320.56 439.53M324.89 431.24L327.01 437.49M305.76 342.58L340.72 409.27M348.43 404.92A142 142 0 0 1 332.75 413.14M332.75 413.14L335.61 419.53M339.82 417.56A149 149 0 0 1 331.34 421.36M331.34 421.36L334 427.83M336.98 426.57A156 156 0 0 1 330.98 429.03M330.98 429.03L333.36 435.19M336.98 426.57L339.62 432.62M339.82 417.56L345.76 429.8M348.43 404.92L352.06 410.9M355.99 408.43A149 149 0 0 1 348.05 413.25M348.05 413.25L351.49 419.35M354.3 417.72A156 156 0 0 1 348.65 420.91M348.65 420.91L351.78 426.72M354.3 417.72L357.66 423.4M355.99 408.43L363.41 419.84M324.67 269.51L418.26 243.25M416.46 237.33A149 149 0 0 1 419.81 249.25M419.81 249.25L426.62 247.64M425.84 244.49A156 156 0 0 1 427.34 250.8M427.34 250.8L433.79 249.42M425.84 244.49L432.24 242.84M416.46 237.33L423.12 235.16M422.08 232.08A156 156 0 0 1 424.09 238.25M424.09 238.25L430.41 236.34M422.08 232.08L428.31 229.91M311.96 259.01L387.52 209.21M380.31 199.28A135 135 0 0 1 393.8 219.75M393.8 219.75L399.97 216.45M396.32 210.04A142 142 0 0 1 403.29 223.04M403.29 223.04L409.62 220.06M406.87 214.51A149 149 0 0 1 412.14 225.72M412.14 225.72L418.59 223M417.3 220.03A156 156 0 0 1 419.82 226.01M419.82 226.01L425.95 223.57M417.3 220.03L423.33 217.34M406.87 214.51L413.07 211.27M411.54 208.41A156 156 0 0 1 414.54 214.16M414.54 214.16L420.46 211.23M411.54 208.41L417.33 205.24M396.32 210.04L413.95 199.38M380.31 199.28L385.78 194.91M382.48 190.94A142 142 0 0 1 388.93 199.01M388.93 199.01L394.55 194.84M391.73 191.15A149 149 0 0 1 397.26 198.62M397.26 198.62L403.01 194.63M401.14 191.99A156 156 0 0 1 404.83 197.32M404.83 197.32L410.33 193.67M401.14 191.99L406.48 188.11M391.73 191.15L402.4 182.72M382.48 190.94L398.11 177.51M298.53 254.85L360.93 179.54M356.81 176.27A135 135 0 0 1 364.91 182.98M364.91 182.98L369.58 177.77M365.68 174.39A142 142 0 0 1 373.37 181.28M373.37 181.28L378.23 176.24M374.83 173.07A149 149 0 0 1 381.52 179.52M381.52 179.52L386.53 174.63M384.25 172.34A156 156 0 0 1 388.77 176.98M388.77 176.98L393.59 172.47M384.25 172.34L388.88 167.63M374.83 173.07L383.96 162.99M365.68 174.39L378.86 158.56M356.81 176.27L373.58 154.34M289.76 256.92L344.44 159.75M338.58 156.63A142 142 0 0 1 350.15 163.14M350.15 163.14L353.86 157.21M349.89 154.8A149 149 0 0 1 357.76 159.73M357.76 159.73L361.66 153.92M358.95 152.14A156 156 0 0 1 364.34 155.75M364.34 155.75L368.12 150.35M358.95 152.14L362.51 146.58M349.89 154.8L356.74 143.06M338.58 156.63L344.87 144.12M341.95 142.69A156 156 0 0 1 347.75 145.61M347.75 145.61L350.84 139.77M341.95 142.69L344.8 136.74M275.56 260.71L278.75 164.57M267.16 164.75A119 119 0 0 1 290.3 165.51M290.3 165.51L291.47 156.59M281.21 155.66A128 128 0 0 1 301.63 158.34M301.63 158.34L303.1 151.5M292.73 149.7A135 135 0 0 1 313.29 154.1M313.29 154.1L315.29 147.39M306.72 145.14A142 142 0 0 1 323.69 150.18M323.69 150.18L326.1 143.61M321.71 142.08A149 149 0 0 1 330.44 145.28M330.44 145.28L333.05 138.78M330.03 137.6A156 156 0 0 1 336.04 140.02M336.04 140.02L338.64 133.95M330.03 137.6L332.37 131.43M321.71 142.08L326 129.17M306.72 145.14L308.3 138.31M303.76 137.34A149 149 0 0 1 312.81 139.43M312.81 139.43L314.59 132.66M311.45 131.87A156 156 0 0 1 317.72 133.52M317.72 133.52L319.54 127.18M311.45 131.87L313 125.45M303.76 137.34L306.4 124M292.73 149.7L295.52 128.88M292.3 128.48A156 156 0 0 1 298.73 129.35M298.73 129.35L299.74 122.82M292.3 128.48L293.04 121.93M281.21 155.66L282.61 127.7M279.37 127.57A156 156 0 0 1 285.84 127.89M285.84 127.89L286.31 121.31M279.37 127.57L279.56 120.97M267.16 164.75L265.23 134.81M260.6 135.18A149 149 0 0 1 269.87 134.58M269.87 134.58L269.64 127.59M266.4 127.73A156 156 0 0 1 272.88 127.51M272.88 127.51L272.8 120.91M266.4 127.73L266.05 121.14M260.6 135.18L259.31 121.64M269.89 268.8L271.95 274.96" stroke="#6e6e6e" stroke-width="0.85" fill="none"/>
<circle cx="120.4" cy="227.61" r="1.75" fill="#0a9a3c"/>
<circle cx="118.22" cy="234.07" r="1.75" fill="#0a9a3c"/>
<circle cx="116.3" cy="240.63" r="1.75" fill="#e8101e"/>
<circle cx="114.65" cy="247.25" r="1.75" fill="#e8101e"/>
<circle cx="113.28" cy="253.94" r="1.75" fill="#0a9a3c"/>
<circle cx="112.19" cy="260.68" r="1.75" fill="#0a9a3c"/>
<circle cx="111.39" cy="267.45" r="1.75" fill="#e8101e"/>
<circle cx="110.86" cy="274.26" r="1.75" fill="#0a9a3c"/>
<circle cx="110.62" cy="281.08" r="1.75" fill="#0a9a3c"/>
<circle cx="110.66" cy="287.91" r="1.75" fill="#0a9a3c"/>
<circle cx="110.98" cy="294.73" r="1.75" fill="#e8101e"/>
<circle cx="111.59" cy="301.52" r="1.75" fill="#0a9a3c"/>
<circle cx="112.48" cy="308.29" r="1.75" fill="#0a9a3c"/>
<circle cx="113.65" cy="315.02" r="1.75" fill="#0a9a3c"/>
<circle cx="115.1" cy="321.69" r="1.75" fill="#0a9a3c"/>
<circle cx="116.83" cy="328.29" r="1.75" fill="#0a9a3c"/>
<circle cx="118.83" cy="334.82" r="1.75" fill="#0a9a3c"/>
<circle cx="121.09" cy="341.26" r="1.75" fill="#0a9a3c"/>
<circle cx="123.63" cy="347.59" r="1.75" fill="#0a9a3c"/>
<circle cx="126.42" cy="353.82" r="1.75" fill="#0a9a3c"/>
<circle cx="129.47" cy="359.93" r="1.75" fill="#0a9a3c"/>
<circle cx="132.77" cy="365.9" r="1.75" fill="#0a9a3c"/>
<circle cx="136.32" cy="371.73" r="1.75" fill="#0a9a3c"/>
<circle cx="140.11" cy="377.41" r="1.75" fill="#0a9a3c"/>
<circle cx="144.13" cy="382.93" r="1.75" fill="#0a9a3c"/>
<circle cx="148.37" cy="388.28" r="1.75" fill="#e8101e"/>
<circle cx="152.84" cy="393.44" r="1.75" fill="#0a9a3c"/>
<circle cx="157.51" cy="398.41" r="1.75" fill="#0a9a3c"/>
<circle cx="162.39" cy="403.19" r="1.75" fill="#0a9a3c"/>
<circle cx="167.46" cy="407.76" r="1.75" fill="#e8101e"/>
<circle cx="172.72" cy="412.11" r="1.75" fill="#e8101e"/>
<circle cx="178.15" cy="416.24" r="1.75" fill="#0a9a3c"/>
<circle cx="183.75" cy="420.15" r="1.75" fill="#e8101e"/>
<circle cx="189.51" cy="423.81" r="1.75" fill="#0a9a3c"/>
<circle cx="195.41" cy="427.23" r="1.75" fill="#0a9a3c"/>
<circle cx="201.46" cy="430.41" r="1.75" fill="#0a9a3c"/>
<circle cx="207.63" cy="433.33" r="1.75" fill="#0a9a3c"/>
<circle cx="213.91" cy="435.99" r="1.75" fill="#0a9a3c"/>
<circle cx="220.3" cy="438.39" r="1.75" fill="#e8101e"/>
<circle cx="226.79" cy="440.52" r="1.75" fill="#0a9a3c"/>
<circle cx="233.35" cy="442.38" r="1.75" fill="#0a9a3c"/>
<circle cx="239.99" cy="443.97" r="1.75" fill="#0a9a3c"/>
<circle cx="246.69" cy="445.28" r="1.75" fill="#0a9a3c"/>
<circle cx="253.44" cy="446.3" r="1.75" fill="#e8101e"/>
<circle cx="260.23" cy="447.05" r="1.75" fill="#e8101e"/>
<circle cx="267.04" cy="447.52" r="1.75" fill="#0a9a3c"/>
<circle cx="273.86" cy="447.7" r="1.75" fill="#0a9a3c"/>
<circle cx="280.69" cy="447.59" r="1.75" fill="#0a9a3c"/>
<circle cx="287.5" cy="447.21" r="1.75" fill="#0a9a3c"/>
<circle cx="294.29" cy="446.54" r="1.75" fill="#e8101e"/>
<circle cx="301.05" cy="445.59" r="1.75" fill="#e8101e"/>
<circle cx="307.77" cy="444.36" r="1.75" fill="#e8101e"/>
<circle cx="314.42" cy="442.85" r="1.75" fill="#e8101e"/>
<circle cx="321.01" cy="441.06" r="1.75" fill="#0a9a3c"/>
<circle cx="327.52" cy="439.01" r="1.75" fill="#0a9a3c"/>
<circle cx="333.94" cy="436.68" r="1.75" fill="#0a9a3c"/>
<circle cx="340.25" cy="434.09" r="1.75" fill="#0a9a3c"/>
<circle cx="346.46" cy="431.24" r="1.75" fill="#0a9a3c"/>
<circle cx="352.53" cy="428.13" r="1.75" fill="#0a9a3c"/>
<circle cx="358.48" cy="424.78" r="1.75" fill="#e8101e"/>
<circle cx="364.28" cy="421.18" r="1.75" fill="#0a9a3c"/>
<circle cx="369.92" cy="417.34" r="1.75" fill="#e8101e"/>
<circle cx="375.4" cy="413.27" r="1.75" fill="#e8101e"/>
<circle cx="380.71" cy="408.98" r="1.75" fill="#0a9a3c"/>
<circle cx="385.83" cy="404.47" r="1.75" fill="#0a9a3c"/>
<circle cx="390.76" cy="399.75" r="1.75" fill="#0a9a3c"/>
<circle cx="395.5" cy="394.83" r="1.75" fill="#0a9a3c"/>
<circle cx="400.02" cy="389.72" r="1.75" fill="#0a9a3c"/>
<circle cx="404.33" cy="384.42" r="1.75" fill="#0a9a3c"/>
<circle cx="408.41" cy="378.95" r="1.75" fill="#0a9a3c"/>
<circle cx="412.26" cy="373.31" r="1.75" fill="#0a9a3c"/>
<circle cx="415.87" cy="367.52" r="1.75" fill="#0a9a3c"/>
<circle cx="419.24" cy="361.59" r="1.75" fill="#0a9a3c"/>
<circle cx="422.36" cy="355.52" r="1.75" fill="#0a9a3c"/>
<circle cx="425.23" cy="349.32" r="1.75" fill="#e8101e"/>
<circle cx="427.84" cy="343.01" r="1.75" fill="#0a9a3c"/>
<circle cx="430.18" cy="336.6" r="1.75" fill="#0a9a3c"/>
<circle cx="432.25" cy="330.1" r="1.75" fill="#0a9a3c"/>
<circle cx="434.05" cy="323.51" r="1.75" fill="#0a9a3c"/>
<circle cx="435.58" cy="316.86" r="1.75" fill="#0a9a3c"/>
<circle cx="436.82" cy="310.15" r="1.75" fill="#0a9a3c"/>
<circle cx="437.79" cy="303.39" r="1.75" fill="#0a9a3c"/>
<circle cx="438.48" cy="296.6" r="1.75" fill="#0a9a3c"/>
<circle cx="438.88" cy="289.79" r="1.75" fill="#0a9a3c"/>
<circle cx="439" cy="282.96" r="1.75" fill="#e8101e"/>
<circle cx="438.83" cy="276.14" r="1.75" fill="#0a9a3c"/>
<circle cx="438.39" cy="269.33" r="1.75" fill="#0a9a3c"/>
<circle cx="437.66" cy="262.54" r="1.75" fill="#e8101e"/>
<circle cx="436.64" cy="255.79" r="1.75" fill="#0a9a3c"/>
<circle cx="435.35" cy="249.09" r="1.75" fill="#0a9a3c"/>
<circle cx="433.78" cy="242.44" r="1.75" fill="#0a9a3c"/>
<circle cx="431.94" cy="235.87" r="1.75" fill="#e8101e"/>
<circle cx="429.83" cy="229.38" r="1.75" fill="#e8101e"/>
<circle cx="427.44" cy="222.98" r="1.75" fill="#0a9a3c"/>
<circle cx="424.79" cy="216.69" r="1.75" fill="#0a9a3c"/>
<circle cx="421.89" cy="210.52" r="1.75" fill="#0a9a3c"/>
<circle cx="418.73" cy="204.47" r="1.75" fill="#0a9a3c"/>
<circle cx="415.32" cy="198.55" r="1.75" fill="#0a9a3c"/>
<circle cx="411.67" cy="192.79" r="1.75" fill="#0a9a3c"/>
<circle cx="407.78" cy="187.18" r="1.75" fill="#0a9a3c"/>
<circle cx="403.66" cy="181.73" r="1.75" fill="#0a9a3c"/>
<circle cx="399.32" cy="176.46" r="1.75" fill="#0a9a3c"/>
<circle cx="394.76" cy="171.38" r="1.75" fill="#0a9a3c"/>
<circle cx="390" cy="166.49" r="1.75" fill="#0a9a3c"/>
<circle cx="385.04" cy="161.81" r="1.75" fill="#0a9a3c"/>
<circle cx="379.88" cy="157.33" r="1.75" fill="#0a9a3c"/>
<circle cx="374.55" cy="153.07" r="1.75" fill="#e8101e"/>
<circle cx="369.04" cy="149.04" r="1.75" fill="#0a9a3c"/>
<circle cx="363.37" cy="145.24" r="1.75" fill="#0a9a3c"/>
<circle cx="357.55" cy="141.68" r="1.75" fill="#0a9a3c"/>
<circle cx="351.58" cy="138.36" r="1.75" fill="#0a9a3c"/>
<circle cx="345.48" cy="135.29" r="1.75" fill="#e8101e"/>
<circle cx="339.26" cy="132.48" r="1.75" fill="#0a9a3c"/>
<circle cx="332.93" cy="129.93" r="1.75" fill="#e8101e"/>
<circle cx="326.5" cy="127.65" r="1.75" fill="#0a9a3c"/>
<circle cx="319.98" cy="125.64" r="1.75" fill="#0a9a3c"/>
<circle cx="313.38" cy="123.9" r="1.75" fill="#e8101e"/>
<circle cx="306.71" cy="122.43" r="1.75" fill="#0a9a3c"/>
<circle cx="299.99" cy="121.24" r="1.75" fill="#0a9a3c"/>
<circle cx="293.22" cy="120.34" r="1.75" fill="#e8101e"/>
<circle cx="286.43" cy="119.71" r="1.75" fill="#0a9a3c"/>
<circle cx="279.61" cy="119.37" r="1.75" fill="#0a9a3c"/>
<circle cx="272.78" cy="119.31" r="1.75" fill="#0a9a3c"/>
<circle cx="265.96" cy="119.54" r="1.75" fill="#0a9a3c"/>
<circle cx="259.15" cy="120.05" r="1.75" fill="#e8101e"/>
<circle cx="252.37" cy="120.84" r="1.75" fill="#e8101e"/>
<circle cx="245.63" cy="121.91" r="1.75" fill="#e8101e"/>
<circle cx="238.94" cy="123.26" r="1.75" fill="#e8101e"/>
<circle cx="232.31" cy="124.89" r="1.75" fill="#e8101e"/>
<circle cx="225.76" cy="126.79" r="1.75" fill="#e8101e"/>
<circle cx="219.29" cy="128.97" r="1.75" fill="#e8101e"/>
<circle cx="212.91" cy="131.41" r="1.75" fill="#e8101e"/>
<circle cx="206.64" cy="134.11" r="1.75" fill="#e8101e"/>
<circle cx="200.49" cy="137.07" r="1.75" fill="#e8101e"/>
<circle cx="194.47" cy="140.29" r="1.75" fill="#e8101e"/>
<circle cx="188.59" cy="143.75" r="1.75" fill="#e8101e"/>
<circle cx="182.86" cy="147.46" r="1.75" fill="#e8101e"/>
<circle cx="177.28" cy="151.39" r="1.75" fill="#e8101e"/>
<circle cx="171.88" cy="155.56" r="1.75" fill="#e8101e"/>
<circle cx="166.65" cy="159.95" r="1.75" fill="#e8101e"/>
<circle cx="161.61" cy="164.55" r="1.75" fill="#e8101e"/>
<circle cx="156.76" cy="169.36" r="1.75" fill="#e8101e"/>
<circle cx="152.12" cy="174.36" r="1.75" fill="#e8101e"/>
<circle cx="147.69" cy="179.56" r="1.75" fill="#e8101e"/>
<circle cx="143.48" cy="184.93" r="1.75" fill="#0a9a3c"/>
<circle cx="139.49" cy="190.47" r="1.75" fill="#0a9a3c"/>
<circle cx="135.75" cy="196.18" r="1.75" fill="#0a9a3c"/>
<circle cx="132.24" cy="202.03" r="1.75" fill="#0a9a3c"/>
<g font-family="Liberation Serif, serif" font-weight="bold" font-size="13.2" fill="#111" text-anchor="middle">
<text x="39.7" y="279.7" dy="4.3">1A</text>
<text x="91.1" y="430.4" dy="4.3">1B</text>
<text x="199.3" y="506" dy="4.3">2A</text>
<text x="285.6" y="520.4" dy="4.3">2B</text>
<text x="371.9" y="500.3" dy="4.3">2C</text>
<text x="450.5" y="438.1" dy="4.3">3A</text>
<text x="498.6" y="361" dy="4.3">3B</text>
<text x="510" y="279" dy="4.3">3C</text>
<text x="502.4" y="220.3" dy="4.3">4A</text>
<text x="477.7" y="159.7" dy="4.3">4B</text>
<text x="433.4" y="108.5" dy="4.3">4C</text>
<text x="393.1" y="80.3" dy="4.3">4D</text>
<text x="310.6" y="52.7" dy="4.3">5A</text>
<text x="184.4" y="67.9" dy="4.3">6A</text>
<text x="94.5" y="131.8" dy="4.3">6B</text>
</g>
<g font-family="Liberation Serif, serif" font-weight="bold" font-size="18.8" fill="#111" text-anchor="middle">
<text x="23.9" y="385.9" dy="4.6" transform="rotate(65.5 23.9 385.9)">Group 1</text>
<text x="289.3" y="554.5" dy="4.6" transform="rotate(-0.5 289.3 554.5)">Group 2</text>
<text x="528.2" y="375.5" dy="4.6" transform="rotate(-70.4 528.2 375.5)">Group 3</text>
<text x="489.6" y="119.8" dy="4.6" transform="rotate(52.5 489.6 119.8)">Group 4</text>
<text x="320.2" y="17.4" dy="4.6" transform="rotate(8.2 320.2 17.4)">Group 5</text>
<text x="121" y="62.8" dy="4.6" transform="rotate(-33 121 62.8)">Group 6</text>
</g>
<text x="268.5" y="286.5" font-family="Liberation Serif, serif" font-weight="bold" font-size="12.4" text-anchor="middle" fill="#111">NAC gene family</text>
<text x="228.6" y="300.5" font-family="Liberation Serif, serif" font-size="9.2" fill="#2aa55a"><tspan fill="#333">(</tspan><tspan x="232.6" font-style="italic">Arabidopsis thaliana</tspan></text>
<text x="225.5" y="311" font-family="Liberation Serif, serif" font-size="9.2" fill="#333">&amp; <tspan font-style="italic" fill="#ee3048">Paeonia suffruticosa</tspan>)</text>
</svg>
</body></html>
